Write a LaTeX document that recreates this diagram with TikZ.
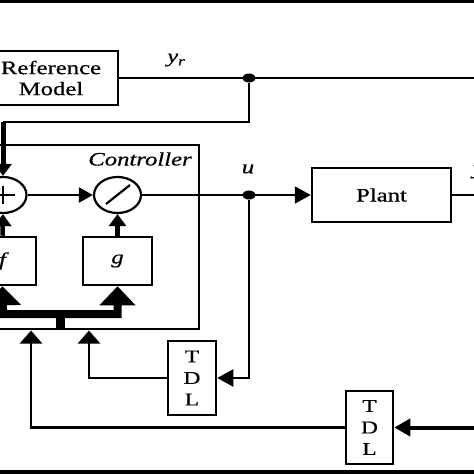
\documentclass[tikz,border=0pt]{standalone}
\usepackage{fontspec}
\setmainfont{Liberation Serif}[FakeStretch=1.3,FakeBold=0.6]
\usetikzlibrary{arrows.meta,shapes.geometric}
\begin{document}
\begin{tikzpicture}[x=1pt,y=-1pt, font=\fontsize{19}{21}\selectfont,
  box/.style={draw, line width=2.5pt, rectangle, inner sep=0pt, align=center},
  oval/.style={draw, line width=2.2pt, ellipse, inner sep=0pt, minimum width=47pt, minimum height=36pt},
  dot/.style={fill, ellipse, inner sep=0pt, minimum width=13pt, minimum height=9pt},
  lbl/.style={inner sep=0pt},
  wire/.style={line width=2.2pt},
  hv/.style={line width=5pt},
  bus/.style={line width=8pt},
  tdlfont/.style={font=\fontsize{18}{21.5}\selectfont},
  ahH/.style={-{Triangle[length=16pt,width=17pt]}},
  ahS/.style={-{Triangle[length=14pt,width=15pt]}},
  ahV/.style={-{Triangle[length=13pt,width=22pt]}},
  ahT/.style={-{Triangle[length=12pt,width=17pt]}},
  ahB/.style={{Triangle[length=19pt,width=35pt]}-{Triangle[length=19pt,width=35pt]}}
]
\useasboundingbox (0,0) rectangle (474,474);
\fill (0,0) rectangle (474,3.3);
\fill (0,470) rectangle (474,474);

% blocks
\node[box, minimum width=134pt, minimum height=54pt] (ref) at (51,78) {Reference\\Model};
\node[box, minimum width=219pt, minimum height=184pt] (ctrl) at (89.5,237) {};
\node[lbl, font=\fontsize{19}{21}\selectfont\itshape] (ctrllbl) at (140,159) {Controller};
\node[oval] (sum) at (3,195) {};
\node[oval] (div) at (117.5,195) {};
\node[box, minimum width=139pt, minimum height=54pt] (plant) at (381.5,195) {Plant};
\node[box, minimum width=67pt, minimum height=48pt] (f) at (2.5,261) {\itshape f};
\node[box, minimum width=69pt, minimum height=48pt] (g) at (117.5,261) {\itshape g};
\node[box, tdlfont, minimum width=48pt, minimum height=74pt] (tdl1) at (192,378) {T\\D\\L};
\node[box, tdlfont, minimum width=47pt, minimum height=73pt] (tdl2) at (369.5,427.5) {T\\D\\L};
\node[dot] (d1) at (249,78) {};
\node[dot] (d2) at (249,195) {};
\node[lbl] (yr) at (176,60) {\itshape y\raisebox{-3pt}{\fontsize{13}{13}\selectfont r}};
\node[lbl] (ulbl) at (248,169) {\itshape u};
\node[lbl] (ylbl) at (478,172) {\itshape y};

% symbols inside circles
\draw[wire] (-9,195) -- (15,195);
\draw[wire] (3,186) -- (3,204);
\draw[wire] (106,204) -- (130,185);

% connectors
\coordinate (e1) at (474,78);
\draw[wire] (ref.east) -- (e1);
\coordinate (c1) at (249,122);
\coordinate (c2) at (3,122);
\draw[wire] (d1) -- (c1) -- (c2);
\draw[hv, ahT] (c2) -- (sum.north);
\draw[wire, ahS] (sum.east) -- (div.west);
\draw[wire, ahH] (div.east) -- (plant.west);
\coordinate (e2) at (474,195);
\draw[wire] (plant.east) -- (e2);
\draw[line width=4.5pt, ahT] (f.north) -- (sum.south);
\draw[line width=4.5pt, ahT] (g.north) -- (div.south);

% bus
\coordinate (b1) at (3,314);
\coordinate (b2) at (117.5,314);
\coordinate (b3) at (60,314);
\coordinate (b4) at (60,329);
\draw[bus, ahB] (f.south) -- (b1) -- (b2) -- (g.south);
\draw[line width=9pt] (b3) -- (b4);

% TDL 1
\coordinate (t1) at (249,378);
\draw[wire, ahH] (d2) -- (t1) -- (tdl1.east);
\coordinate (t2) at (89,378);
\coordinate (t3) at (89,330.5);
\draw[wire, ahV] (tdl1.west) -- (t2) -- (t3);

% TDL 2
\coordinate (e3) at (474,427.5);
\draw[line width=4pt, ahH] (e3) -- (tdl2.east);
\coordinate (t4) at (31,427.5);
\coordinate (t5) at (31,330.5);
\draw[wire, ahV] (tdl2.west) -- (t4) -- (t5);
\end{tikzpicture}
\end{document}
